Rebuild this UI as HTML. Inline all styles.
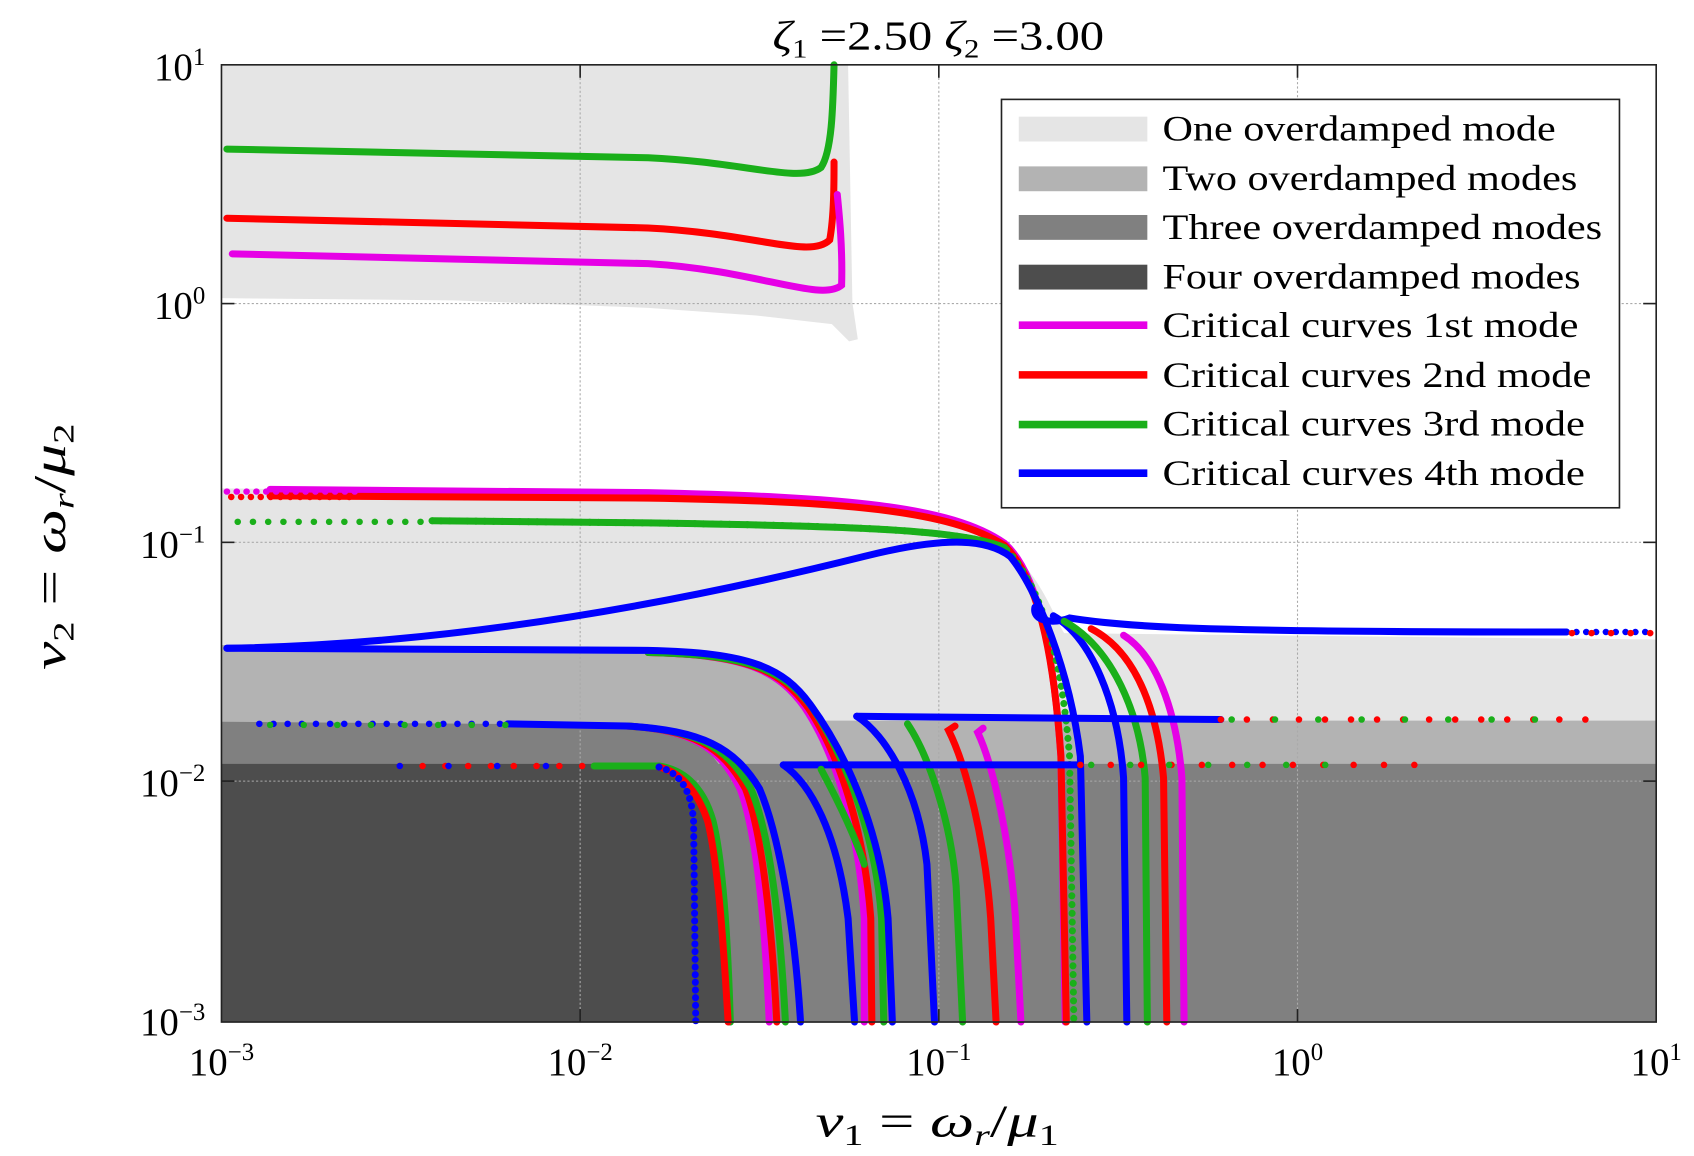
<!DOCTYPE html>
<html><head><meta charset="utf-8"><style>
html,body{margin:0;padding:0;background:#fff;}
svg{display:block;}
text{font-family:"Liberation Serif",serif;fill:#000;}
</style></head><body>
<svg width="1694" height="1156" viewBox="0 0 1568 1070" preserveAspectRatio="none" xmlns="http://www.w3.org/2000/svg">
<rect x="0" y="0" width="1568" height="1070" fill="#fff"/>
<path d="M205,60 L785,60 L789,280 L794,314 L786,316 L770,300 L700,292 L600,285 L420,278 L205,276 Z" fill="#e5e5e5"/>
<path d="M205,452 L600,457 C780,461 880,470 930,505 C965,535 975,570 985,586 L1533,592 L1533,946 L205,946 Z" fill="#e5e5e5"/>
<path d="M205,597 L600,601 C690,603 715,615 738,648 L755,667 L1533,667 L1533,946 L205,946 Z" fill="#b3b3b3"/>
<path d="M205,668 L580,671 C630,672 650,685 665,707 L1533,707 L1533,946 L205,946 Z" fill="#808080"/>
<path d="M205,707 L612,707 C635,710 655,740 668,800 L673,946 L205,946 Z" fill="#4d4d4d"/>
<g stroke="#aaa" stroke-width="1" stroke-dasharray="2,2" fill="none">
<line x1="537" y1="60" x2="537" y2="946"/><line x1="869" y1="60" x2="869" y2="946"/><line x1="1201" y1="60" x2="1201" y2="946"/>
<line x1="205" y1="281" x2="1533" y2="281"/><line x1="205" y1="502" x2="1533" y2="502"/><line x1="205" y1="723" x2="1533" y2="723"/>
</g>
<g fill="none" stroke-width="6.5" stroke-linecap="round">
<path d="M210,138 L600,146 C690,150 740,170 760,155 C770,140 771,100 772,60" stroke="#1aaf1a"/>
<path d="M210,202 L600,211 C700,216 750,240 768,222 C772,200 772,170 772,150" stroke="#ff0000"/>
<path d="M215,235 L600,244 C700,250 760,280 779,264 C780,230 777,200 775,180" stroke="#e600e6"/>
<path d="M250,453 L600,456 C780,460 880,468 930,503 C960,530 975,600 982,700 L986,946" stroke="#e600e6"/>
<path d="M250,459 L600,461 C780,464 880,472 930,505 C960,535 975,600 982,700 L987,946" stroke="#ff0000"/>
<path d="M400,482 L600,484 C790,487 890,490 930,507 C962,540 982,600 990,700 L994,946" stroke="#1aaf1a" stroke-dasharray="0.1,8"/>
<path d="M400,482 L600,484 C790,487 890,490 930,507" stroke="#1aaf1a"/>
<path d="M210,600 C400,597 600,565 800,515 C880,495 915,500 935,515 C960,545 990,620 1000,700 L1006,946" stroke="#0000ff"/>
<path d="M958,562 C955,575 975,578 990,572 C1050,582 1150,585 1450,585" stroke="#0000ff"/>
<path d="M975,570 C1010,590 1035,650 1040,720 L1043,946" stroke="#0000ff"/>
<path d="M985,575 C1030,600 1055,660 1060,720 L1062,946" stroke="#1aaf1a"/>
<path d="M1010,582 C1055,605 1072,665 1077,720 L1080,946" stroke="#ff0000"/>
<path d="M1040,588 C1075,610 1090,670 1094,720 L1096,946" stroke="#e600e6"/>
<path d="M600,604 C690,606 720,620 745,655 C775,700 795,770 800,850 L800,946" stroke="#e600e6"/>
<path d="M600,604 C692,606 722,620 748,655 C778,700 800,770 806,850 L807,946" stroke="#ff0000"/>
<path d="M600,604 C695,606 725,620 752,655 C782,700 810,770 816,850 L818,946" stroke="#1aaf1a"/>
<path d="M210,600 L600,602 C695,604 725,618 750,652 C785,700 815,770 822,850 L826,946" stroke="#0000ff"/>
<path d="M580,672 C640,676 665,690 685,730 C700,770 708,850 712,946" stroke="#e600e6"/>
<path d="M580,672 C642,676 668,690 690,730 C705,770 714,850 719,946" stroke="#ff0000"/>
<path d="M580,672 C645,676 672,690 695,730 C712,770 722,850 727,946" stroke="#1aaf1a"/>
<path d="M470,670 L580,672 C650,676 680,692 703,730 C720,770 735,850 741,946" stroke="#0000ff"/>
<path d="M550,709 L610,709 C630,712 650,725 660,760 C670,800 674,880 676,946" stroke="#1aaf1a"/>
<path d="M610,710 C628,714 645,730 655,760 C665,800 670,880 674,946" stroke="#ff0000"/>
<path d="M610,710 C632,716 640,735 642,760 L644,946" stroke="#0000ff" stroke-dasharray="0.1,7"/>
<path d="M793,663 L1130,666" stroke="#0000ff"/>
<path d="M793,663 C820,680 850,730 858,800 L865,946" stroke="#0000ff"/>
<path d="M840,670 C860,700 880,760 885,820 L891,946" stroke="#1aaf1a"/>
<path d="M884,672 L878,676 C895,710 912,780 917,850 L922,946" stroke="#ff0000"/>
<path d="M910,674 L905,678 C920,710 935,780 940,850 L945,946" stroke="#e600e6"/>
<path d="M725,708 L1000,708" stroke="#0000ff"/>
<path d="M725,708 C750,725 775,770 785,850 L791,946" stroke="#0000ff"/>
<path d="M760,712 C775,740 790,770 800,800" stroke="#1aaf1a"/>
</g>
<g stroke-width="6" stroke-linecap="round" fill="none">
<path d="M210,455 L330,455" stroke="#e600e6" stroke-dasharray="0.1,9"/>
<path d="M214,460 L330,460" stroke="#ff0000" stroke-dasharray="0.1,9"/>
<path d="M220,483 L400,483" stroke="#1aaf1a" stroke-dasharray="0.1,14"/>
<path d="M240,670 L470,670" stroke="#0000ff" stroke-dasharray="0.1,13"/>
<path d="M250,671 L470,671" stroke="#1aaf1a" stroke-dasharray="0.1,31"/>
<path d="M370,709 L550,709" stroke="#ff0000" stroke-dasharray="0.1,21"/>
<path d="M370,709 L550,709" stroke="#0000ff" stroke-dasharray="0.1,45"/>
<path d="M1130,666 L1480,666" stroke="#ff0000" stroke-dasharray="0.1,24"/>
<path d="M1140,666 L1460,666" stroke="#1aaf1a" stroke-dasharray="0.1,40"/>
<path d="M1000,708 L1330,708" stroke="#ff0000" stroke-dasharray="0.1,28"/>
<path d="M1010,708 L1250,708" stroke="#1aaf1a" stroke-dasharray="0.1,36"/>
<path d="M1450,585 L1530,585" stroke="#0000ff" stroke-dasharray="0.1,9"/>
<path d="M1455,586 L1530,586" stroke="#ff0000" stroke-dasharray="0.1,18"/>
</g>
<rect x="205" y="60" width="1328" height="886" fill="none" stroke="#222" stroke-width="1.5"/>
<g stroke="#222" stroke-width="1.5">
<line x1="205" y1="281" x2="217" y2="281"/><line x1="205" y1="502" x2="217" y2="502"/><line x1="205" y1="723" x2="217" y2="723"/>
<line x1="1521" y1="281" x2="1533" y2="281"/><line x1="1521" y1="502" x2="1533" y2="502"/><line x1="1521" y1="723" x2="1533" y2="723"/>
<line x1="537" y1="946" x2="537" y2="934"/><line x1="869" y1="946" x2="869" y2="934"/><line x1="1201" y1="946" x2="1201" y2="934"/>
<line x1="537" y1="60" x2="537" y2="72"/><line x1="869" y1="60" x2="869" y2="72"/><line x1="1201" y1="60" x2="1201" y2="72"/>
</g>
<rect x="927" y="92" width="572" height="378" fill="#fff" stroke="#222" stroke-width="1.5"/>
<rect x="943" y="108" width="119" height="23" fill="#e5e5e5"/>
<rect x="943" y="154" width="119" height="23" fill="#b3b3b3"/>
<rect x="943" y="199" width="119" height="23" fill="#808080"/>
<rect x="943" y="245" width="119" height="23" fill="#4d4d4d"/>
<g stroke-width="7">
<line x1="943" y1="301" x2="1062" y2="301" stroke="#e600e6"/>
<line x1="943" y1="347" x2="1062" y2="347" stroke="#ff0000"/>
<line x1="943" y1="393" x2="1062" y2="393" stroke="#1aaf1a"/>
<line x1="943" y1="438" x2="1062" y2="438" stroke="#0000ff"/>
</g>
<g font-size="33" lengthAdjust="spacingAndGlyphs">
<text x="1076" y="130" textLength="364" lengthAdjust="spacingAndGlyphs">One overdamped mode</text>
<text x="1076" y="176" textLength="384" lengthAdjust="spacingAndGlyphs">Two overdamped modes</text>
<text x="1076" y="221" textLength="407" lengthAdjust="spacingAndGlyphs">Three overdamped modes</text>
<text x="1076" y="267" textLength="387" lengthAdjust="spacingAndGlyphs">Four overdamped modes</text>
<text x="1076" y="312" textLength="385" lengthAdjust="spacingAndGlyphs">Critical curves 1st mode</text>
<text x="1076" y="358" textLength="397" lengthAdjust="spacingAndGlyphs">Critical curves 2nd mode</text>
<text x="1076" y="403" textLength="391" lengthAdjust="spacingAndGlyphs">Critical curves 3rd mode</text>
<text x="1076" y="449" textLength="391" lengthAdjust="spacingAndGlyphs">Critical curves 4th mode</text>
</g>
<text x="715" y="46" font-size="38" textLength="307" lengthAdjust="spacingAndGlyphs"><tspan font-style="italic">ζ</tspan><tspan font-size="24" dy="7">1</tspan><tspan dy="-7"> =2.50 </tspan><tspan font-style="italic">ζ</tspan><tspan font-size="24" dy="7">2</tspan><tspan dy="-7"> =3.00</tspan></text>
<g font-size="36" text-anchor="end">
<text x="190" y="74">10<tspan font-size="23" dy="-14">1</tspan></text>
<text x="190" y="295">10<tspan font-size="23" dy="-14">0</tspan></text>
<text x="190" y="516">10<tspan font-size="23" dy="-14">−1</tspan></text>
<text x="190" y="737">10<tspan font-size="23" dy="-14">−2</tspan></text>
<text x="190" y="958">10<tspan font-size="23" dy="-14">−3</tspan></text>
</g>
<g font-size="36" text-anchor="middle">
<text x="205" y="995">10<tspan font-size="23" dy="-14">−3</tspan></text>
<text x="537" y="995">10<tspan font-size="23" dy="-14">−2</tspan></text>
<text x="869" y="995">10<tspan font-size="23" dy="-14">−1</tspan></text>
<text x="1201" y="995">10<tspan font-size="23" dy="-14">0</tspan></text>
<text x="1533" y="995">10<tspan font-size="23" dy="-14">1</tspan></text>
</g>
<text x="755" y="1052" font-size="42" textLength="225" lengthAdjust="spacingAndGlyphs"><tspan font-style="italic">ν</tspan><tspan font-size="27" dy="8">1</tspan><tspan dy="-8"> = </tspan><tspan font-style="italic">ω</tspan><tspan font-size="27" font-style="italic" dy="8">r</tspan><tspan dy="-8">/</tspan><tspan font-style="italic">μ</tspan><tspan font-size="27" dy="8">1</tspan></text>
<text transform="translate(60,620) rotate(-90)" font-size="42" textLength="228" lengthAdjust="spacingAndGlyphs"><tspan font-style="italic">ν</tspan><tspan font-size="27" dy="8">2</tspan><tspan dy="-8"> = </tspan><tspan font-style="italic">ω</tspan><tspan font-size="27" font-style="italic" dy="8">r</tspan><tspan dy="-8">/</tspan><tspan font-style="italic">μ</tspan><tspan font-size="27" dy="8">2</tspan></text>
</svg>
</body></html>
